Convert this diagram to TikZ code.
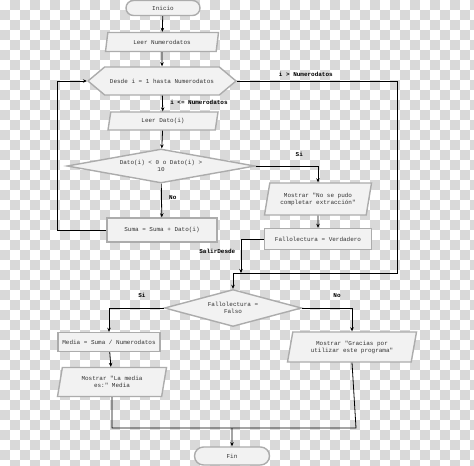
\documentclass[tikz,border=0pt]{standalone}
\usepackage{fontspec}
\setmonofont{Liberation Mono}
\usetikzlibrary{shapes.geometric,shapes.misc,shapes.symbols,positioning,arrows.meta}

\tikzset{
  box/.style={draw=gray!65, line width=1.4bp, fill=gray!10, text=black!80, inner sep=1bp, align=center,
    font=\ttfamily\fontsize{6}{7}\selectfont},
  terminal/.style={box, rounded rectangle},
  iobox/.style={box, trapezium, trapezium left angle=70, trapezium right angle=110, trapezium stretches body},
  procbox/.style={box, rectangle},
  decision/.style={box, diamond, inner sep=0pt},
  loopbox/.style={box, signal, signal to=west and east, signal pointer angle=80},
  lbl/.style={font=\ttfamily\bfseries\fontsize{6}{7}\selectfont, text=black},
  flow/.style={-{Stealth[length=4bp,width=3.5bp]}, black, line width=0.8bp},
  checker/.style={fill=gray!30}
}

\begin{document}
\begin{tikzpicture}[x=1bp, y=-1bp]
    % Background
    \useasboundingbox (0,0) rectangle (474,466);
    \fill[white] (0,0) rectangle (474,466);
    \foreach \i in {0,...,47}{
      \foreach \j in {0,...,46}{
        \pgfmathtruncatemacro\chk{mod(\i+\j,2)}
        \ifnum\chk=1 \fill[checker] (\i*10,\j*10) rectangle ++(10,10); \fi
      }
    }

    % Nodes
    \node[terminal, minimum width=76bp, minimum height=15bp] (inicio) at (163,8) {Inicio};
    \node[iobox, minimum width=113bp, minimum height=19bp] (leerN) at (162,42) {Leer Numerodatos};
    \node[loopbox, minimum width=148bp, minimum height=28bp] (desde) at (162,81) {Desde i = 1 hasta Numerodatos};
    \node[iobox, minimum width=110bp, minimum height=18bp] (leerD) at (163,121) {Leer Dato(i)};
    \node[decision, minimum width=188bp, minimum height=34bp, aspect=5.5] (dec1) at (161,166) {Dato(i) < 0 o Dato(i) >\\10};
    \node[iobox, minimum width=107bp, minimum height=32bp] (mostrarNo) at (318,199) {Mostrar "No se pudo\\completar extracción"};
    \node[procbox, minimum width=107bp, minimum height=21bp] (falloV) at (318,239) {Fallolectura = Verdadero};
    \node[procbox, minimum width=110bp, minimum height=24bp] (suma) at (162,230) {Suma = Suma + Dato(i)};
    \node[decision, minimum width=137bp, minimum height=37bp, aspect=3.7] (dec2) at (233,308) {Fallolectura =\\Falso};
    \node[procbox, minimum width=102bp, minimum height=19bp] (media) at (109,342) {Media = Suma / Numerodatos};
    \node[iobox, minimum width=109bp, minimum height=29bp] (mostrarMedia) at (112,382) {Mostrar "La media\\es:" Media};
    \node[iobox, minimum width=129bp, minimum height=30bp] (mostrarGracias) at (352,347) {Mostrar "Gracias por\\utilizar este programa"};
    \node[terminal, minimum width=77bp, minimum height=18bp] (fin) at (232,456) {Fin};

    % Connector points
    \coordinate (loopL) at (57,230);
    \coordinate (loopR) at (397,81);
    \coordinate (exitR) at (397,273);
    \coordinate (exitJ) at (233,273);
    \coordinate (salir) at (241,273);
    \coordinate (endL) at (112,428);
    \coordinate (endR) at (356,428);
    \coordinate (endJ) at (232,428);

    % Connectors
    \draw[flow] (inicio) -- (leerN);
    \draw[flow] (leerN) -- (desde);
    \draw[flow] (desde) -- node[lbl, right=4bp, pos=0.45] {i <= Numerodatos} (leerD);
    \draw[flow] (leerD) -- (dec1);
    \draw[flow] (dec1) -- node[lbl, right=4bp, pos=0.4] {No} (suma);
    \draw[flow] (dec1.east) -| node[lbl, above=6bp, pos=0.35] {Si} (mostrarNo.north);
    \draw[flow] (mostrarNo) -- (falloV);
    \draw[flow] (suma.west) -- (loopL) |- (desde.west);
    \draw[line width=0.8bp] (desde.east) -- node[lbl, above=1bp, pos=0.43] {i > Numerodatos} (loopR) -- (exitR) -- (exitJ);
    \draw[flow] (exitJ) -- (dec2.north);
    \draw[flow] (falloV.west) -| node[lbl, left=2bp, pos=0.68] {SalirDesde} (salir);
    \draw[flow] (dec2.west) -| node[lbl, above=7bp, pos=0.2] {Si} (media.north);
    \draw[flow] (dec2.east) -| node[lbl, above=7bp, pos=0.35] {No} (mostrarGracias.north);
    \draw[flow] (media) -- (mostrarMedia);
    \draw[line width=0.8bp] (mostrarMedia.south) -- (endL) -- (endR) -- (mostrarGracias.south);
    \draw[flow] (endJ) -- (fin);
\end{tikzpicture}
\end{document}
